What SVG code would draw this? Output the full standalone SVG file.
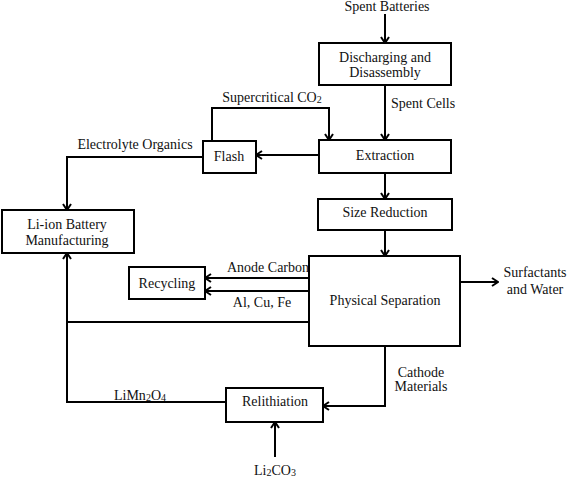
<svg xmlns="http://www.w3.org/2000/svg" width="567" height="477" viewBox="0 0 567 477">
<style>
text{font-family:"Liberation Serif","Times New Roman",serif;font-size:14px;fill:#111;text-anchor:middle}
.box{fill:#fff;stroke:#000;stroke-width:2}
.c{fill:none;stroke:#000;stroke-width:2}
.s{font-size:10px}
</style>
<defs>
<marker id="ah" viewBox="0 0 10 10" markerWidth="10" markerHeight="10" refX="9" refY="5" orient="auto" markerUnits="userSpaceOnUse">
<path d="M3,1 L9,5 L3,9" fill="none" stroke="#000" stroke-width="2"/>
</marker>
</defs>
<rect width="567" height="477" fill="#fff"/>
<g id="connectors">
<path class="c" d="M385,14 V43" marker-end="url(#ah)"/>
<path class="c" d="M385,85 V140" marker-end="url(#ah)"/>
<path class="c" d="M212,141 V108 H329 V140" marker-end="url(#ah)"/>
<path class="c" d="M319,155 H256" marker-end="url(#ah)"/>
<path class="c" d="M203,157 H67 V210" marker-end="url(#ah)"/>
<path class="c" d="M385,173 V199" marker-end="url(#ah)"/>
<path class="c" d="M385,230 V256" marker-end="url(#ah)"/>
<path class="c" d="M309,278 H205" marker-end="url(#ah)"/>
<path class="c" d="M309,291 H205" marker-end="url(#ah)"/>
<path class="c" d="M309,322 H67"/>
<path class="c" d="M226,402 H67 V253" marker-end="url(#ah)"/>
<path class="c" d="M460,282 H498" marker-end="url(#ah)"/>
<path class="c" d="M385,346 V406 H323" marker-end="url(#ah)"/>
<path class="c" d="M275,457 V422" marker-end="url(#ah)"/>
<text x="387" y="11">Spent Batteries</text>
<text x="391" y="108" style="text-anchor:start">Spent Cells</text>
<text x="272" y="102">Supercritical CO<tspan class="s" dy="1">2</tspan></text>
<text x="135" y="149">Electrolyte Organics</text>
<text x="268" y="272">Anode Carbon</text>
<text x="262" y="307">Al, Cu, Fe</text>
<text x="535" y="277">Surfactants</text>
<text x="535" y="294">and Water</text>
<text x="421" y="377">Cathode</text>
<text x="421" y="391">Materials</text>
<text x="140" y="400">LiMn<tspan class="s" dy="1">2</tspan><tspan dy="-1">O</tspan><tspan class="s" dy="1">4</tspan></text>
<text x="275" y="475">Li<tspan class="s" dy="1">2</tspan><tspan dy="-1">CO</tspan><tspan class="s" dy="1">3</tspan></text>
</g>
<g id="discharging"><rect class="box" x="319" y="43" width="132" height="42"/><text x="385" y="62">Discharging and</text><text x="385" y="77">Disassembly</text></g>
<g id="extraction"><rect class="box" x="319" y="140" width="132" height="33"/><text x="385" y="160">Extraction</text></g>
<g id="flash"><rect class="box" x="203" y="141" width="53" height="32"/><text x="229" y="161">Flash</text></g>
<g id="size-reduction"><rect class="box" x="318" y="199" width="134" height="31"/><text x="385" y="217">Size Reduction</text></g>
<g id="li-ion"><rect class="box" x="2" y="210" width="132" height="43"/><text x="67" y="229">Li-ion Battery</text><text x="67" y="245">Manufacturing</text></g>
<g id="recycling"><rect class="box" x="129" y="267" width="76" height="32"/><text x="167" y="288">Recycling</text></g>
<g id="physical-separation"><rect class="box" x="309" y="256" width="151" height="90"/><text x="385" y="305">Physical Separation</text></g>
<g id="relithiation"><rect class="box" x="226" y="388" width="97" height="34"/><text x="275" y="406">Relithiation</text></g>
</svg>
